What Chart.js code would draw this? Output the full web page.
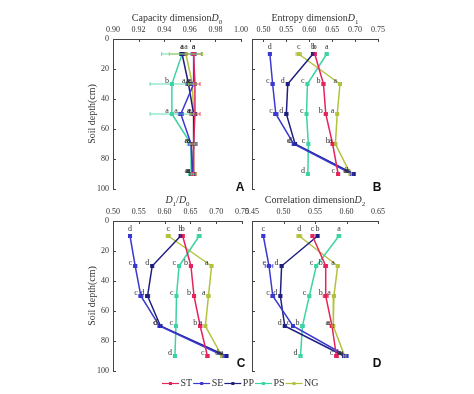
<!DOCTYPE html>
<html>
<head>
<meta charset="utf-8">
<script src="https://cdn.jsdelivr.net/npm/chart.js@4/dist/chart.umd.min.js"></script>
<style>
  body { margin: 0; background: #fff; }
  #wrap { position: relative; width: 474px; height: 394px; }
  canvas { position: absolute; left: 0; top: 0; }
</style>
</head>
<body>
<div id="wrap">
  <canvas id="chartA" width="474" height="394"></canvas>
  <canvas id="chartB" width="474" height="394"></canvas>
  <canvas id="chartC" width="474" height="394"></canvas>
  <canvas id="chartD" width="474" height="394"></canvas>
</div>
<script>
// Soil depth (cm) of each sample layer
const depths = [10, 30, 50, 70, 90];
const seriesNames = ['ST', 'SE', 'PP', 'PS', 'NG'];
const seriesColors = ['#e6245c', '#3a3ad2', '#1f1f82', '#3dd3a4', '#b3c23c'];
const depthTicks = [0, 20, 40, 60, 80, 100];

// Capacity dimension D0 (rows: ST, SE, PP, PS, NG)
const d0Values = [
    [0.963, 0.964, 0.964, 0.963, 0.963],
    [0.963, 0.963, 0.953, 0.961, 0.962],
    [0.954, 0.959, 0.963, 0.963, 0.962],
    [0.954, 0.946, 0.946, 0.961, 0.961],
    [0.957, 0.962, 0.963, 0.963, 0.963]
];
const d0Errors = [
    [0.006, 0.004, 0.004, 0.003, 0.002],
    [0.002, 0.002, 0.002, 0.002, 0.002],
    [0.002, 0.002, 0.002, 0.002, 0.002],
    [0.016, 0.017, 0.017, 0.003, 0.002],
    [0.013, 0.003, 0.003, 0.003, 0.002]
];
const d0Letters = [
    ['a', 'a', 'a', 'a', 'a'],
    ['a', 'a', 'a', 'a', 'a'],
    ['a', 'a', 'a', 'a', 'a'],
    ['a', 'b', 'a', 'a', 'a'],
    ['a', 'a', 'a', 'a', 'a']
];
const d0Ticks = [0.90, 0.92, 0.94, 0.96, 0.98, 1.00];

// Entropy dimension D1
const d1Values = [
    [0.612, 0.631, 0.636, 0.651, 0.663],
    [0.514, 0.520, 0.527, 0.566, 0.693],
    [0.608, 0.553, 0.550, 0.569, 0.697],
    [0.638, 0.596, 0.594, 0.598, 0.597],
    [0.577, 0.667, 0.661, 0.657, 0.690]
];
const d1Errors = [
    [0.003, 0.003, 0.003, 0.003, 0.003],
    [0.002, 0.003, 0.005, 0.002, 0.002],
    [0.002, 0.002, 0.003, 0.002, 0.002],
    [0.003, 0.002, 0.002, 0.002, 0.002],
    [0.006, 0.003, 0.002, 0.002, 0.002]
];
const d1Letters = [
    ['b', 'b', 'b', 'b', 'c'],
    ['d', 'c', 'c', 'd', 'b'],
    ['b', 'd', 'd', 'd', 'ab'],
    ['a', 'c', 'c', 'c', 'd'],
    ['c', 'a', 'a', 'a', 'a']
];
const d1Ticks = [0.50, 0.55, 0.60, 0.65, 0.70, 0.75];

// Ratio D1/D0
const ratioValues = [
    [0.635, 0.651, 0.657, 0.669, 0.683],
    [0.533, 0.543, 0.554, 0.590, 0.715],
    [0.631, 0.576, 0.567, 0.592, 0.720],
    [0.667, 0.628, 0.623, 0.622, 0.620],
    [0.607, 0.691, 0.685, 0.679, 0.711]
];
const ratioErrors = [
    [0.003, 0.003, 0.003, 0.003, 0.003],
    [0.002, 0.003, 0.004, 0.002, 0.002],
    [0.002, 0.002, 0.004, 0.002, 0.002],
    [0.004, 0.002, 0.002, 0.002, 0.002],
    [0.004, 0.002, 0.003, 0.002, 0.002]
];
const ratioLetters = [
    ['b', 'b', 'b', 'b', 'c'],
    ['d', 'c', 'c', 'c', 'b'],
    ['b', 'd', 'd', 'd', 'a'],
    ['a', 'c', 'c', 'c', 'd'],
    ['c', 'a', 'a', 'a', 'a']
];
const ratioTicks = [0.50, 0.55, 0.60, 0.65, 0.70, 0.75];

// Correlation dimension D2
const d2Values = [
    [0.546, 0.567, 0.567, 0.577, 0.584],
    [0.468, 0.477, 0.483, 0.515, 0.600],
    [0.554, 0.497, 0.495, 0.502, 0.596],
    [0.588, 0.552, 0.541, 0.530, 0.527],
    [0.525, 0.586, 0.580, 0.579, 0.597]
];
const d2Errors = [
    [0.002, 0.003, 0.004, 0.003, 0.003],
    [0.002, 0.006, 0.003, 0.002, 0.002],
    [0.002, 0.002, 0.002, 0.002, 0.002],
    [0.003, 0.002, 0.002, 0.003, 0.002],
    [0.004, 0.002, 0.002, 0.002, 0.002]
];
const d2Letters = [
    ['c', 'b', 'b', 'a', 'c'],
    ['c', 'e', 'c', 'c', 'a'],
    ['b', 'd', 'd', 'd', 'b'],
    ['a', 'c', 'c', 'b', 'd'],
    ['d', 'a', 'a', 'a', 'a']
];
const d2Ticks = [0.45, 0.50, 0.55, 0.60, 0.65];

const SERIF = '"Liberation Serif", "DejaVu Serif", serif';
const AXIS = '#444';

// draws error bars, letters, inward ticks, titles, panel letter and legend
const panelDecor = {
    id: 'panelDecor',
    afterDatasetsDraw(chart, args, opts) {
        const {ctx, chartArea: area, scales: {x, y}} = chart;
        ctx.save();

        // horizontal error bars
        chart.data.datasets.forEach((ds, i) => {
            ctx.strokeStyle = ds.borderColor;
            ctx.lineWidth = 0.8;
            ds.data.forEach((p, j) => {
                const e = opts.errors[i][j];
                const x1 = x.getPixelForValue(p.x - e);
                const x2 = x.getPixelForValue(p.x + e);
                const py = y.getPixelForValue(p.y);
                ctx.beginPath();
                ctx.moveTo(x1, py); ctx.lineTo(x2, py);
                ctx.moveTo(x1, py - 2); ctx.lineTo(x1, py + 2);
                ctx.moveTo(x2, py - 2); ctx.lineTo(x2, py + 2);
                ctx.stroke();
            });
        });

        // significance letters
        ctx.font = '8px ' + SERIF;
        ctx.fillStyle = '#333';
        ctx.textBaseline = 'middle';
        chart.data.datasets.forEach((ds, i) => {
            ds.data.forEach((p, j) => {
                const px = x.getPixelForValue(p.x);
                const py = y.getPixelForValue(p.y);
                if (j === 0) {
                    ctx.textAlign = 'center';
                    ctx.fillText(opts.letters[i][j], px, py - 7);
                } else {
                    ctx.textAlign = 'right';
                    ctx.fillText(opts.letters[i][j], px - 3, py - 3);
                }
            });
        });

        // inward tick marks
        ctx.strokeStyle = AXIS;
        ctx.lineWidth = 1;
        ctx.beginPath();
        opts.xTicks.forEach(v => {
            const px = Math.round(x.getPixelForValue(v)) + 0.5;
            ctx.moveTo(px, area.top); ctx.lineTo(px, area.top + 3);
        });
        depthTicks.forEach(v => {
            const py = Math.round(y.getPixelForValue(v)) + 0.5;
            ctx.moveTo(area.left, py); ctx.lineTo(area.left + 3, py);
        });
        ctx.stroke();

        // top title with italic D and subscript
        ctx.fillStyle = '#333';
        ctx.textBaseline = 'alphabetic';
        ctx.textAlign = 'left';
        const parts = opts.title;
        const fontOf = k => k === 'i' ? 'italic 10px ' + SERIF : (k === 's' ? '7px ' + SERIF : '10px ' + SERIF);
        let total = 0;
        parts.forEach(([t, k]) => { ctx.font = fontOf(k); total += ctx.measureText(t).width; });
        let tx = (area.left + area.right) / 2 - total / 2;
        const ty = area.top - 18;
        parts.forEach(([t, k]) => {
            ctx.font = fontOf(k);
            ctx.fillText(t, tx, k === 's' ? ty + 3 : ty);
            tx += ctx.measureText(t).width;
        });

        // y axis title
        if (opts.yTitle) {
            ctx.save();
            ctx.font = '10px ' + SERIF;
            ctx.textAlign = 'center';
            ctx.textBaseline = 'middle';
            ctx.translate(area.left - 21, (area.top + area.bottom) / 2);
            ctx.rotate(-Math.PI / 2);
            ctx.fillText('Soil depth(cm)', 0, 0);
            ctx.restore();
        }

        // panel letter
        ctx.font = 'bold 12px "Liberation Sans", Arial, sans-serif';
        ctx.fillStyle = '#111';
        ctx.textAlign = 'center';
        ctx.textBaseline = 'middle';
        ctx.fillText(opts.panel, area.right - 1, area.bottom - opts.panelLift);

        // shared legend
        if (opts.legend) {
            let lx = 162;
            const ly = 383.5;
            ctx.font = '10px ' + SERIF;
            ctx.textAlign = 'left';
            seriesNames.forEach((name, i) => {
                const len = 17;
                ctx.strokeStyle = seriesColors[i];
                ctx.lineWidth = 1.2;
                ctx.beginPath();
                ctx.moveTo(lx, ly); ctx.lineTo(lx + len, ly);
                ctx.stroke();
                ctx.fillStyle = seriesColors[i];
                ctx.fillRect(lx + len / 2 - 1.5, ly - 1.5, 3, 3);
                ctx.fillStyle = '#333';
                ctx.fillText(name, lx + len + 1.5, ly);
                lx += len + 2.5 + ctx.measureText(name).width;
            });
        }
        ctx.restore();
    }
};

function makePanel(id, values, errors, letters, xTicks, xMin, xMax, title, panel, pad, showY, panelLift, legend) {
    const datasets = values.map((row, i) => ({
        label: seriesNames[i],
        data: row.map((v, j) => ({x: v, y: depths[j]})),
        borderColor: seriesColors[i],
        backgroundColor: seriesColors[i],
        borderWidth: 1.5,
        pointStyle: 'rect',
        pointRadius: 1.8,
        showLine: true,
        tension: 0
    }));

    return new Chart(document.getElementById(id).getContext('2d'), {
        type: 'scatter',
        data: {datasets: datasets},
        options: {
            responsive: false,
            animation: false,
            layout: {padding: pad},
            plugins: {
                legend: {display: false},
                tooltip: {enabled: false},
                panelDecor: {errors, letters, xTicks, title, panel, yTitle: showY, panelLift, legend}
            },
            scales: {
                x: {
                    type: 'linear',
                    position: 'top',
                    min: xMin,
                    max: xMax,
                    grid: {display: false, drawTicks: false},
                    border: {display: true, color: AXIS, width: 1},
                    afterBuildTicks: s => { s.ticks = xTicks.map(v => ({value: v})); },
                    afterFit: s => { s.height = 30; },
                    ticks: {
                        color: '#333',
                        padding: 4,
                        maxRotation: 0,
                        font: {family: SERIF, size: 8},
                        callback: v => Number(v).toFixed(2)
                    }
                },
                y: {
                    type: 'linear',
                    reverse: true,
                    min: 0,
                    max: 100,
                    grid: {display: false, drawTicks: false},
                    border: {display: true, color: AXIS, width: 1},
                    afterBuildTicks: s => { s.ticks = depthTicks.map(v => ({value: v})); },
                    afterFit: s => { s.width = showY ? 50 : 0; },
                    ticks: {
                        display: showY,
                        color: '#333',
                        padding: 4,
                        font: {family: SERIF, size: 8}
                    }
                }
            }
        },
        plugins: [panelDecor]
    });
}

makePanel('chartA', d0Values, d0Errors, d0Letters, d0Ticks, 0.90, 1.00,
    [['Capacity dimension', 'n'], ['D', 'i'], ['0', 's']], 'A',
    {left: 63, right: 233, top: 9, bottom: 205}, true, 1, false);

makePanel('chartB', d1Values, d1Errors, d1Letters, d1Ticks, 0.475, 0.75,
    [['Entropy dimension', 'n'], ['D', 'i'], ['1', 's']], 'B',
    {left: 252, right: 96, top: 9, bottom: 205}, false, 1, false);

makePanel('chartC', ratioValues, ratioErrors, ratioLetters, ratioTicks, 0.50, 0.75,
    [['D', 'i'], ['1', 's'], ['/', 'n'], ['D', 'i'], ['0', 's']], 'C',
    {left: 63, right: 232, top: 191, bottom: 23}, true, 7, true);

makePanel('chartD', d2Values, d2Errors, d2Letters, d2Ticks, 0.45, 0.65,
    [['Correlation dimension', 'n'], ['D', 'i'], ['2', 's']], 'D',
    {left: 252, right: 96, top: 191, bottom: 23}, false, 7, false);
</script>
</body>
</html>
